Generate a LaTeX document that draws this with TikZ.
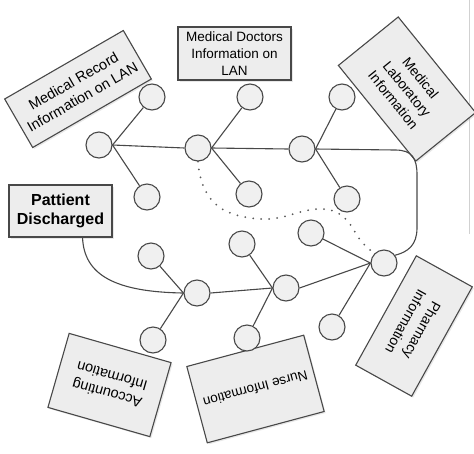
\documentclass[tikz,border=0pt]{standalone}
\usepackage{fontspec}
\setmainfont{Liberation Sans}
\usetikzlibrary{shadows}
\definecolor{edgec}{HTML}{484848}
\definecolor{fillc}{HTML}{F0F0F0}
\definecolor{boxc}{HTML}{EDEDED}
\begin{document}
\begin{tikzpicture}[x=1pt,y=-1pt,
  dot/.style={circle,draw=edgec,line width=1.1pt,fill=fillc,minimum size=26pt,inner sep=0pt},
  lbl/.style={draw=edgec,line width=1.1pt,fill=boxc,inner sep=0pt,align=center,
    font=\fontsize{13.5}{17}\selectfont,
    drop shadow={opacity=0.18,shadow xshift=1.5pt,shadow yshift=-1.5pt}},
  conn/.style={draw=edgec,line width=1.1pt},
  dotline/.style={draw=edgec!90,line width=2pt,dash pattern=on 0pt off 8pt,line cap=round}]
\useasboundingbox (0,0) rectangle (474,453);
\draw[color=black!18,line width=1pt] (469.5,0) -- (469.5,234);

% boxes
\node[lbl,rotate=30,minimum width=137pt,minimum height=56pt,font=\fontsize{14.5}{18}\selectfont] (rec) at (78,89) {Medical Record\\Information on LAN};
\node[lbl,minimum width=113pt,minimum height=53pt] (doc) at (234.5,53.5) {Medical Doctors\\Information on\\LAN};
\node[lbl,rotate=-51,minimum width=123pt,minimum height=77pt,font=\fontsize{14}{17.5}\selectfont] (lab) at (407,89) {Medical\\Laboratory\\Information};
\node[lbl,font=\bfseries\fontsize{16}{19}\selectfont,minimum width=103pt,minimum height=52pt] (dis) at (60.5,211) {Pattient\\Discharged};
\node[lbl,rotate=164,minimum width=106pt,minimum height=77pt,font=\fontsize{14.5}{18}\selectfont] (acc) at (109.5,385) {Accounting\\Information};
\node[lbl,rotate=195,minimum width=121pt,minimum height=79pt,font=\fontsize{13.5}{17}\selectfont] (nur) at (255.5,389) {Nurse Information};
\node[lbl,rotate=-119,minimum width=125pt,minimum height=64pt,font=\fontsize{14}{18}\selectfont] (pha) at (414,326) {Pharmacy\\Information};

% circles
\node[dot] (a) at (99,145) {};
\node[dot] (a1) at (152,97) {};
\node[dot] (a2) at (147,197) {};
\node[dot] (b) at (198,148) {};
\node[dot] (b1) at (250,97) {};
\node[dot] (b2) at (249,194) {};
\node[dot] (c) at (302,149) {};
\node[dot] (c1) at (342,97) {};
\node[dot] (c2) at (347,199) {};
\node[dot] (e) at (197,293) {};
\node[dot] (e1) at (151,256) {};
\node[dot] (e2) at (153,340) {};
\node[dot] (f) at (286,288) {};
\node[dot] (f1) at (242,244) {};
\node[dot] (f2) at (247,338) {};
\node[dot] (d) at (384,263) {};
\node[dot] (d1) at (311,233) {};
\node[dot] (d2) at (332,327) {};

% connectors top row
\draw[conn] (a.east) -- (a1);
\draw[conn] (a.east) -- (a2);
\draw[conn] (a.east) -- (b.west);
\draw[conn] (b.east) -- (b1);
\draw[conn] (b.east) -- (b2);
\draw[conn] (b.east) -- (c.west);
\draw[conn] (c.east) -- (c1);
\draw[conn] (c.east) -- (c2);
\draw[conn] (c.east) -- (395,150) .. controls (412,150) and (417,158) .. (417,175) -- (417,228) .. controls (417,245) and (408,252) .. (d.35);

% connectors bottom row
\draw[conn] (e.west) -- (e1);
\draw[conn] (e.west) -- (e2);
\draw[conn] (e.east) -- (f.west);
\draw[conn] (f.west) -- (f1);
\draw[conn] (f.west) -- (f2);
\draw[conn] (f.east) -- (d.west);
\draw[conn] (d.west) -- (d1);
\draw[conn] (d.west) -- (d2);
\draw[conn] ([xshift=-30pt]dis.south east) .. controls (84,275) and (115,292) .. (e.west);

% dotted
\draw[dotline] (b.south) .. controls (201,195) and (215,217) .. (262,219)
  .. controls (285,220) and (300,209) .. (320,209)
  .. controls (340,209) and (348,220) .. (355,232)
  .. controls (360,241) and (366,247) .. (d.north west);
\end{tikzpicture}
\end{document}
